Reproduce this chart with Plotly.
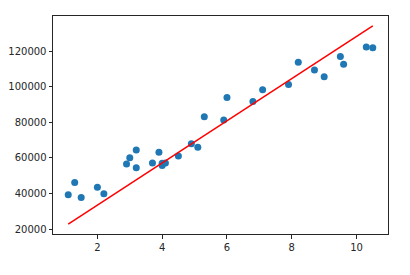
import plotly.graph_objects as go

years = [1.1, 1.3, 1.5, 2.0, 2.2, 2.9, 3.0, 3.2, 3.2, 3.7, 3.9, 4.0, 4.0, 4.1, 4.5,
         4.9, 5.1, 5.3, 5.9, 6.0, 6.8, 7.1, 7.9, 8.2, 8.7, 9.0, 9.5, 9.6, 10.3, 10.5]
salary = [39343, 46205, 37731, 43525, 39891, 56642, 60150, 54445, 64445, 57189,
          63218, 55794, 56957, 57081, 61111, 67938, 66029, 83088, 81363, 93940,
          91738, 98273, 101302, 113812, 109431, 105582, 116969, 112635, 122391, 121872]
fit_x = [1.1, 10.5]
fit_y = [22800, 134200]
x_ticks = [2, 4, 6, 8, 10]
y_ticks = [20000, 40000, 60000, 80000, 100000, 120000]

xmin, xmax = min(years), max(years)
ymin, ymax = min(salary + fit_y), max(salary + fit_y)
xpad = (xmax - xmin) * 0.05
ypad = (ymax - ymin) * 0.05

fig = go.Figure()
fig.add_trace(go.Scatter(x=years, y=salary, mode="markers",
                         marker=dict(color="#1f77b4", size=7, line=dict(width=0))))
fig.add_trace(go.Scatter(x=fit_x, y=fit_y, mode="lines",
                         line=dict(color="red", width=1.5)))

axis_common = dict(showline=True, linecolor="#262626", linewidth=1, mirror=True,
                   ticks="outside", ticklen=3.5, tickwidth=1, tickcolor="#262626",
                   showgrid=False, zeroline=False, automargin=False,
                   tickfont=dict(family="DejaVu Sans", size=10, color="#262626"))
fig.update_xaxes(range=[xmin - xpad, xmax + xpad], tickvals=x_ticks, **axis_common)
fig.update_yaxes(range=[ymin - ypad, ymax + ypad], tickvals=y_ticks,
                 tickformat="d", **axis_common)
fig.update_layout(width=410, height=275, showlegend=False,
                  margin=dict(l=53, r=22, t=16, b=41),
                  paper_bgcolor="white", plot_bgcolor="white")
fig.write_html("out.html")
